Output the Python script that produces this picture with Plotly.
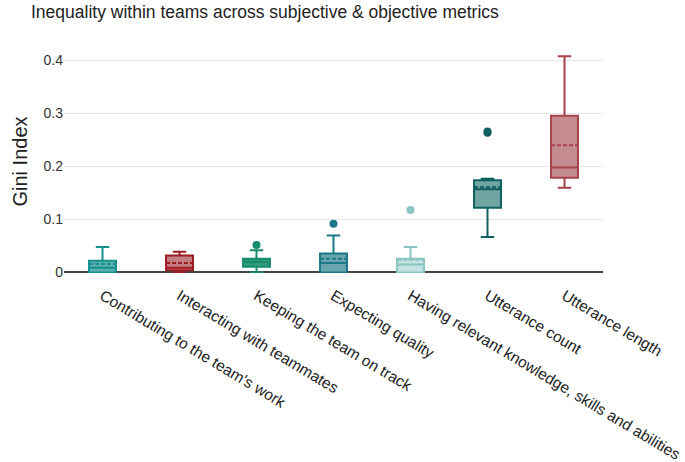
import plotly.graph_objects as go

categories = [
    "Contributing to the team's work",
    "Interacting with teammates",
    "Keeping the team on track",
    "Expecting quality",
    "Having relevant knowledge, skills and abilities",
    "Utterance count",
    "Utterance length",
]
lowerfence = [0.0, 0.0, 0.0, 0.0, 0.0, 0.067, 0.160]
q1 = [0.0, 0.004, 0.011, 0.0, 0.0, 0.122, 0.179]
median = [0.009, 0.009, 0.020, 0.018, 0.015, 0.157, 0.198]
q3 = [0.022, 0.032, 0.026, 0.036, 0.026, 0.174, 0.296]
upperfence = [0.048, 0.039, 0.042, 0.070, 0.048, 0.177, 0.408]
mean = [0.016, 0.018, 0.020, 0.026, 0.024, 0.161, 0.240]
outlier_cat = [
    "Keeping the team on track",
    "Expecting quality",
    "Having relevant knowledge, skills and abilities",
    "Utterance count",
    "Utterance count",
]
outlier_val = [0.052, 0.092, 0.118, 0.264, 0.266]

line_colors = ["#14918f", "#9e1b22", "#158c6b", "#1a7888", "#8ac4c4", "#0f6060", "#a6434b"]
fill_colors = ["#5fb1af", "#c47d81", "#2f9a7c", "#6aa5af", "#c2e1e1", "#70a5a3", "#c48b90"]

fig = go.Figure()
for i, cat in enumerate(categories):
    fig.add_trace(go.Box(
        x=[cat], q1=[q1[i]], median=[median[i]], q3=[q3[i]],
        lowerfence=[lowerfence[i]], upperfence=[upperfence[i]], mean=[mean[i]],
        boxmean=True, boxpoints=False, name=cat,
        line=dict(color=line_colors[i], width=2), fillcolor=fill_colors[i],
        whiskerwidth=0.5, showlegend=False,
    ))

color_of = dict(zip(categories, line_colors))
for c, v in zip(outlier_cat, outlier_val):
    fig.add_trace(go.Scatter(
        x=[c], y=[v], mode="markers", showlegend=False,
        marker=dict(color=color_of[c], size=8),
    ))

fig.update_layout(
    width=685, height=462,
    margin=dict(l=64, r=82, t=50, b=189),
    paper_bgcolor="white", plot_bgcolor="white",
    font=dict(family="Liberation Sans, Arial, sans-serif", color="#222"),
    title=dict(text="Inequality within teams across subjective & objective metrics",
               x=31/685, xanchor="left", xref="container",
               y=1 - 12/462, yanchor="middle", yref="container",
               font=dict(size=17.5, color="#222")),
    boxgap=0.5, boxmode="overlay",
)
fig.update_xaxes(
    categoryorder="array", categoryarray=categories,
    tickangle=31, tickfont=dict(size=15.5, color="#222"),
    ticklabelstandoff=10,
    showgrid=False, showline=False, ticks="", automargin=False,
)
fig.update_yaxes(
    range=[-0.001, 0.42], tickvals=[0, 0.1, 0.2, 0.3, 0.4],
    ticktext=["0", "0.1", "0.2", "0.3", "0.4"],
    tickfont=dict(size=14, color="#333"),
    showgrid=True, gridcolor="#e6e6e6", gridwidth=1,
    zeroline=True, zerolinecolor="#444", zerolinewidth=1.5,
    title=dict(text="Gini Index", font=dict(size=20, color="#222"), standoff=10),
    automargin=False, ticks="",
)

fig.write_html("out.html")
